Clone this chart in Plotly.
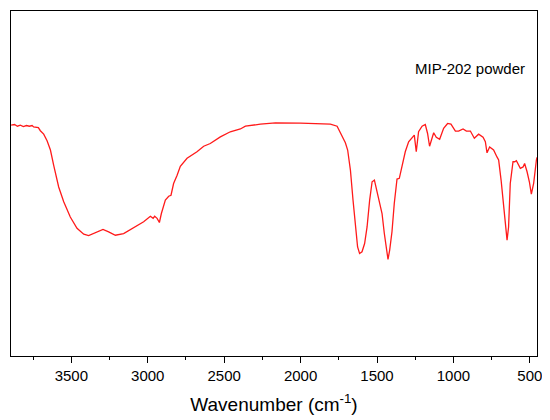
import plotly.graph_objects as go

wavenumber = [3894, 3872, 3853, 3834, 3814, 3794, 3775, 3757, 3747, 3729, 3716, 3703, 3681, 3659,
              3637, 3616, 3583, 3550, 3507, 3463, 3419, 3387, 3343, 3293, 3256, 3212, 3158, 3092,
              3027, 2983, 2965, 2955, 2939, 2924, 2911, 2885, 2863, 2848, 2831, 2808, 2787, 2743,
              2678, 2634, 2591, 2525, 2460, 2394, 2361, 2263, 2165, 2001, 1870, 1805, 1761, 1740,
              1718, 1707, 1692, 1674, 1657, 1642, 1627, 1614, 1598, 1581, 1565, 1548, 1532, 1517,
              1504, 1489, 1467, 1452, 1439, 1428, 1417, 1402, 1387, 1369, 1354, 1336, 1315, 1293,
              1271, 1256, 1243, 1228, 1205, 1184, 1169, 1156, 1129, 1112, 1090, 1064, 1038, 1016,
              987, 966, 937, 915, 889, 863, 835, 806, 791, 780, 763, 737, 715, 704, 688, 671, 660,
              649, 639, 628, 610, 599, 588, 580, 562, 544, 534, 518, 503, 490, 475, 457, 453]
transmittance = [66.9, 67.1, 66.6, 66.9, 66.5, 66.8, 66.6, 66.8, 66.4, 66.3, 66.2, 65.3, 64.3, 62.4,
                 59.7, 55.3, 49.0, 44.7, 40.3, 37.0, 35.3, 34.9, 35.7, 36.7, 36.0, 35.0, 35.5, 37.2,
                 38.9, 40.5, 39.9, 40.5, 39.9, 38.7, 41.3, 45.2, 46.3, 46.6, 50.0, 52.4, 55.0, 57.3,
                 59.2, 60.8, 61.6, 63.5, 65.0, 65.8, 66.6, 67.2, 67.6, 67.5, 67.4, 67.2, 66.6, 64.7,
                 62.8, 61.8, 59.7, 53.9, 45.2, 37.4, 31.6, 29.7, 30.2, 32.6, 37.4, 45.2, 50.5, 51.0,
                 48.6, 45.2, 41.3, 35.5, 30.7, 28.0, 30.7, 36.0, 44.2, 51.3, 51.5, 55.3, 59.2, 62.1,
                 63.4, 64.0, 59.2, 65.0, 66.6, 67.1, 64.5, 60.8, 64.7, 63.4, 62.8, 66.0, 67.4, 67.2,
                 65.2, 65.2, 65.8, 65.2, 65.2, 63.1, 64.3, 63.4, 62.1, 58.9, 60.6, 59.7, 57.7, 56.8,
                 51.0, 43.2, 37.4, 33.6, 37.4, 50.0, 56.3, 56.3, 56.6, 55.8, 54.4, 54.8, 55.8, 53.4,
                 50.5, 46.9, 50.0, 56.8, 57.6]
tick_values = [3500, 3000, 2500, 2000, 1500, 1000, 500]
tick_labels = ["3500", "3000", "2500", "2000", "1500", "1000", "500"]
minor_tick_values = [3750, 3250, 2750, 2250, 1750, 1250, 750]
sample_label = "MIP-202 powder"

fig = go.Figure()
fig.add_trace(go.Scatter(x=wavenumber, y=transmittance, mode="lines",
                         line=dict(color="#ff1a1a", width=1.3), showlegend=False))

fig.update_layout(
    width=542, height=412,
    margin=dict(l=3, r=13, t=3, b=64),
    paper_bgcolor="white", plot_bgcolor="white",
    font=dict(family="Liberation Sans, Arial, sans-serif", color="black"),
    xaxis=dict(
        range=[3895, 453],
        tickmode="array", tickvals=tick_values, ticktext=tick_labels,
        ticks="outside", ticklen=6, tickwidth=1.2, tickcolor="black",
        minor=dict(ticks="outside", ticklen=3, tickwidth=1.2, tickcolor="black",
                   tickmode="array", tickvals=minor_tick_values),
        showline=True, linecolor="black", linewidth=1.3, mirror=True,
        showgrid=False, zeroline=False,
        tickfont=dict(size=15),
        title=dict(text="Wavenumber (cm<sup>-1</sup>)", font=dict(size=19), standoff=14),
    ),
    yaxis=dict(
        range=[0, 100],
        showticklabels=False, ticks="",
        showline=True, linecolor="black", linewidth=1.3, mirror=True,
        showgrid=False, zeroline=False,
    ),
    annotations=[dict(x=0.9816, y=0.8346, xref="paper", yref="paper",
                      text=sample_label, showarrow=False,
                      xanchor="right", yanchor="middle",
                      font=dict(size=15, color="black"))],
)

fig.write_html("out.html")
